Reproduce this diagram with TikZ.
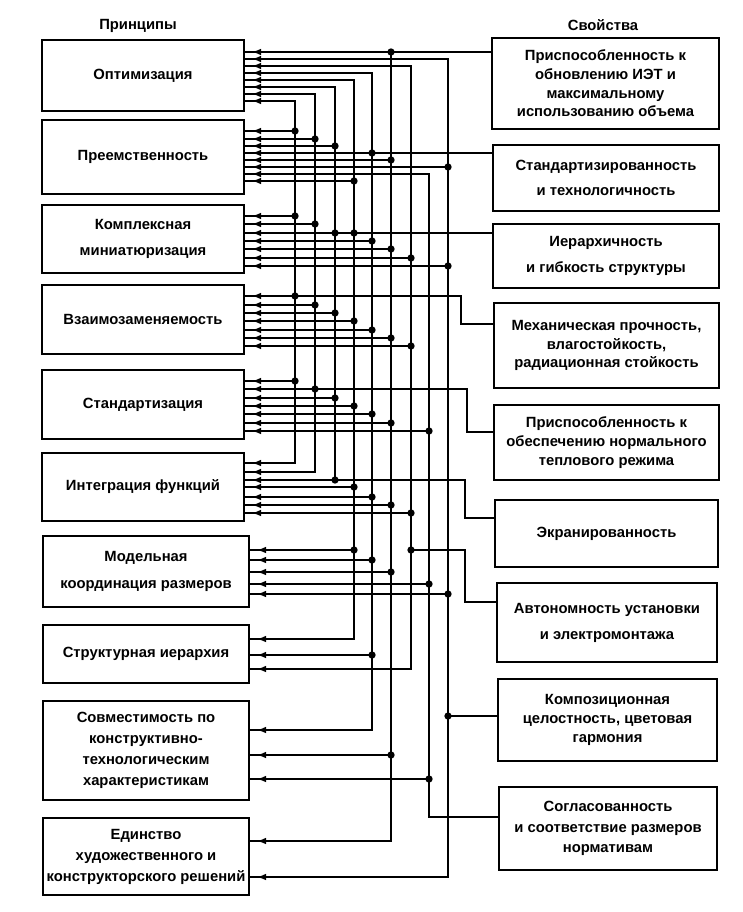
\documentclass[tikz,border=0pt]{standalone}
\usepackage{fontspec}
\setmainfont{Liberation Sans}
\usetikzlibrary{arrows.meta,decorations.markings}

\tikzset{
  lbl/.style={font=\bfseries\fontsize{11.1}{14}\selectfont},
  box/.style={lbl, draw, line width=1.5pt, align=center, inner sep=0pt},
  bus/.style={line width=1.5pt, line cap=rect},
  arr/.style={bus, postaction={decorate},
    decoration={markings, mark=at position -5pt with {\arrow{Latex[length=7pt,width=5pt]}}}},
  dot/.style={circle, fill, inner sep=0pt, minimum size=5.5pt},
}

\begin{document}
\begin{tikzpicture}[x=0.75pt, y=-0.75pt]
\useasboundingbox (0,0) rectangle (742,912);

% titles
\node[lbl] (tprin) at (138,26) {Принципы};
\node[lbl] (tprop) at (603,25) {Свойства};

% principles
\node[box, minimum width=151.5pt, minimum height=53.25pt] (B1) at (143,75.5) {Оптимизация};
\node[box, minimum width=151.5pt, minimum height=55.5pt] (B2) at (143,157) {Преемственность};
\node[box, minimum width=151.5pt, minimum height=51pt] (B3) at (143,239) {Комплексная\\[5.5pt]миниатюризация};
\node[box, minimum width=151.5pt, minimum height=51.75pt] (B4) at (143,319.5) {Взаимозаменяемость};
\node[box, minimum width=151.5pt, minimum height=51.75pt] (B5) at (143,404.5) {Стандартизация};
\node[box, minimum width=151.5pt, minimum height=51pt] (B6) at (143,487) {Интеграция функций};
\node[box, minimum width=154.5pt, minimum height=53.25pt] (B7) at (146,571.5) {Модельная\\[6pt]координация размеров};
\node[box, minimum width=154.5pt, minimum height=43.5pt] (B8) at (146,654) {Структурная иерархия};
\node[box, minimum width=154.5pt, minimum height=74.25pt] (B9) at (146,750.5) {Совместимость по\\[1.75pt]конструктивно-\\[1.75pt]технологическим\\[1.75pt]характеристикам};
\node[box, minimum width=154.5pt, minimum height=57.75pt] (B10) at (146,856.5) {Единство\\[1.75pt]художественного и\\[1.75pt]конструкторского решений};

% properties
\node[box, minimum width=170.25pt, minimum height=68.25pt] (P1) at (605.5,83.5) {Приспособленность к\\обновлению ИЭТ и\\максимальному\\использованию объема};
\node[box, minimum width=169.5pt, minimum height=49.5pt] (P2) at (606,178) {Стандартизированность\\[4.75pt]и технологичность};
\node[box, minimum width=169.5pt, minimum height=48pt] (P3) at (606,256) {Иерархичность\\[5.5pt]и гибкость структуры};
\node[box, minimum width=168.75pt, minimum height=63.75pt] (P4) at (606.5,345.5) {Механическая прочность,\\влагостойкость,\\радиационная стойкость};
\node[box, minimum width=168.75pt, minimum height=56.25pt] (P5) at (606.5,442.5) {Приспособленность к\\обеспечению нормального\\теплового режима};
\node[box, minimum width=167.25pt, minimum height=50.25pt] (P6) at (606.5,533.5) {Экранированность};
\node[box, minimum width=165pt, minimum height=59.25pt] (P7) at (607,622.5) {Автономность установки\\[5.5pt]и электромонтажа};
\node[box, minimum width=164.25pt, minimum height=61.5pt] (P8) at (607.5,720) {Композиционная\\[0.5pt]целостность, цветовая\\[0.5pt]гармония};
\node[box, minimum width=163.5pt, minimum height=62.25pt] (P9) at (608,828.5) {Согласованность\\[1.5pt]и соответствие размеров\\[1.5pt]нормативам};

% bus columns
\coordinate (V1) at (295,0);
\coordinate (V2) at (315,0);
\coordinate (V3) at (335,0);
\coordinate (V4) at (354,0);
\coordinate (V5) at (372,0);
\coordinate (V6) at (391,0);
\coordinate (V7) at (411,0);
\coordinate (V8) at (429,0);
\coordinate (V9) at (448,0);

% columns with their top and bottom branches
\draw[arr] (V1 |- 0,463) -- (V1 |- 0,101) -- (B1.east |- 0,101);
\draw[arr] (V1 |- 0,463) -- (B6.east |- 0,463);
\draw[arr] (V2 |- 0,472) -- (V2 |- 0,94) -- (B1.east |- 0,94);
\draw[arr] (V2 |- 0,472) -- (B6.east |- 0,472);
\draw[arr] (V3 |- 0,480) -- (V3 |- 0,87) -- (B1.east |- 0,87);
\draw[arr] (V4 |- 0,639) -- (V4 |- 0,80) -- (B1.east |- 0,80);
\draw[arr] (V4 |- 0,639) -- (B8.east |- 0,639);
\draw[arr] (V5 |- 0,730) -- (V5 |- 0,73) -- (B1.east |- 0,73);
\draw[arr] (V5 |- 0,730) -- (B9.east |- 0,730);
\draw[arr] (V6 |- 0,52) node[dot]{} -- (V6 |- 0,841) -- (B10.east |- 0,841);
\draw[arr] (V7 |- 0,669) -- (V7 |- 0,66) -- (B1.east |- 0,66);
\draw[arr] (V7 |- 0,669) -- (B8.east |- 0,669);
\draw[arr] (P9.west |- 0,817) -- (V8 |- 0,817) -- (V8 |- 0,174) -- (B2.east |- 0,174);
\draw[arr] (V9 |- 0,877) -- (V9 |- 0,59) -- (B1.east |- 0,59);
\draw[arr] (V9 |- 0,877) -- (B10.east |- 0,877);

% property lines
\draw[arr] (P1.west |- 0,52) -- (B1.east |- 0,52);
\draw[arr] (P2.west |- 0,153) -- (B2.east |- 0,153);
\draw[arr] (P3.west |- 0,233) -- (B3.east |- 0,233);
\draw[arr] (P4.west |- 0,324) -- ++(-32,0) |- (B4.east |- 0,296);
\draw[arr] (P5.west |- 0,432) -- ++(-26,0) |- (B5.east |- 0,389);
\draw[arr] (P6.west |- 0,518) -- ++(-29,0) |- (B6.east |- 0,480);
\draw[bus] (P7.west |- 0,602) -- ++(-31,0) |- (V7 |- 0,550) node[dot]{};
\draw[bus] (P8.west |- 0,716) -- (V9 |- 0,716) node[dot]{};
\node[dot] at (V5 |- 0,153) {};
\node[dot] at (V3 |- 0,233) {};
\node[dot] at (V4 |- 0,233) {};
\node[dot] at (V1 |- 0,296) {};
\node[dot] at (V2 |- 0,389) {};
\node[dot] at (V3 |- 0,480) {};

% Преемственность
\draw[arr] (V1 |- 0,131) node[dot]{} -- (B2.east |- 0,131);
\draw[arr] (V2 |- 0,139) node[dot]{} -- (B2.east |- 0,139);
\draw[arr] (V3 |- 0,146) node[dot]{} -- (B2.east |- 0,146);
\draw[arr] (V6 |- 0,160) node[dot]{} -- (B2.east |- 0,160);
\draw[arr] (V9 |- 0,167) node[dot]{} -- (B2.east |- 0,167);
\draw[arr] (V4 |- 0,181) node[dot]{} -- (B2.east |- 0,181);

% Комплексная миниатюризация
\draw[arr] (V1 |- 0,216) node[dot]{} -- (B3.east |- 0,216);
\draw[arr] (V2 |- 0,224) node[dot]{} -- (B3.east |- 0,224);
\draw[arr] (V5 |- 0,241) node[dot]{} -- (B3.east |- 0,241);
\draw[arr] (V6 |- 0,249) node[dot]{} -- (B3.east |- 0,249);
\draw[arr] (V7 |- 0,258) node[dot]{} -- (B3.east |- 0,258);
\draw[arr] (V9 |- 0,266) node[dot]{} -- (B3.east |- 0,266);

% Взаимозаменяемость
\draw[arr] (V2 |- 0,305) node[dot]{} -- (B4.east |- 0,305);
\draw[arr] (V3 |- 0,313) node[dot]{} -- (B4.east |- 0,313);
\draw[arr] (V4 |- 0,321) node[dot]{} -- (B4.east |- 0,321);
\draw[arr] (V5 |- 0,330) node[dot]{} -- (B4.east |- 0,330);
\draw[arr] (V6 |- 0,338) node[dot]{} -- (B4.east |- 0,338);
\draw[arr] (V7 |- 0,346) node[dot]{} -- (B4.east |- 0,346);

% Стандартизация
\draw[arr] (V1 |- 0,381) node[dot]{} -- (B5.east |- 0,381);
\draw[arr] (V3 |- 0,398) node[dot]{} -- (B5.east |- 0,398);
\draw[arr] (V4 |- 0,406) node[dot]{} -- (B5.east |- 0,406);
\draw[arr] (V5 |- 0,414) node[dot]{} -- (B5.east |- 0,414);
\draw[arr] (V6 |- 0,423) node[dot]{} -- (B5.east |- 0,423);
\draw[arr] (V8 |- 0,431) node[dot]{} -- (B5.east |- 0,431);

% Интеграция функций
\draw[arr] (V4 |- 0,487) node[dot]{} -- (B6.east |- 0,487);
\draw[arr] (V5 |- 0,497) node[dot]{} -- (B6.east |- 0,497);
\draw[arr] (V6 |- 0,505) node[dot]{} -- (B6.east |- 0,505);
\draw[arr] (V7 |- 0,513) node[dot]{} -- (B6.east |- 0,513);

% Модельная координация размеров
\draw[arr] (V4 |- 0,550) node[dot]{} -- (B7.east |- 0,550);
\draw[arr] (V5 |- 0,560) node[dot]{} -- (B7.east |- 0,560);
\draw[arr] (V6 |- 0,572) node[dot]{} -- (B7.east |- 0,572);
\draw[arr] (V8 |- 0,584) node[dot]{} -- (B7.east |- 0,584);
\draw[arr] (V9 |- 0,594) node[dot]{} -- (B7.east |- 0,594);

% Структурная иерархия, Совместимость
\draw[arr] (V5 |- 0,655) node[dot]{} -- (B8.east |- 0,655);
\draw[arr] (V6 |- 0,755) node[dot]{} -- (B9.east |- 0,755);
\draw[arr] (V8 |- 0,779) node[dot]{} -- (B9.east |- 0,779);
\end{tikzpicture}
\end{document}
